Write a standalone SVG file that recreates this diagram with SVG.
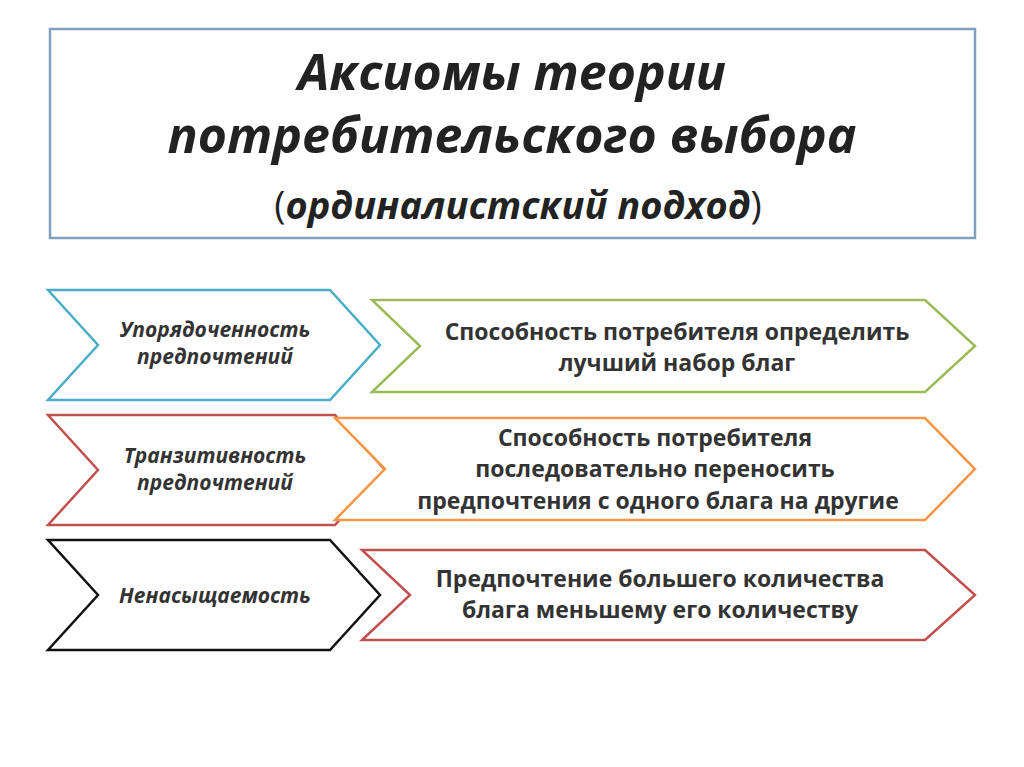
<svg xmlns="http://www.w3.org/2000/svg" width="1024" height="767" viewBox="0 0 1024 767">
<style>
.t{font-family:"Open Sans","Liberation Sans",sans-serif;font-weight:bold;fill:#333;text-anchor:middle}
.h{font-family:"Open Sans","Liberation Sans",sans-serif;font-weight:bold;font-style:italic;fill:#222;text-anchor:middle;font-size:50px}
.l{font-size:21px;font-style:italic}
.r{font-size:23px}
polygon{fill:#fff;stroke-width:2.5}
</style>
<rect width="1024" height="767" fill="#fff"/>
<g id="title">
<rect x="50" y="29" width="925" height="209" fill="#fff" stroke="#7f9fbf" stroke-width="2.5"/>
<text class="h" x="512" y="90">Аксиомы теории</text>
<text class="h" x="512" y="153">потребительского выбора</text>
<text class="h" x="518" y="219" style="font-size:38px"><tspan font-style="normal" font-weight="normal">(</tspan>ординалистский подход<tspan font-style="normal" font-weight="normal">)</tspan></text>
</g>
<g id="n1"><polygon points="48,290 330,290 380,345 330,400 48,400 98,345" stroke="#4bacc6"/>
<text class="t l" x="215" y="337">Упорядоченность</text><text class="t l" x="215" y="364">предпочтений</text></g>
<g id="n2"><polygon points="372,300 925,300 975,346 925,392 372,392 420,346" stroke="#9bbb59"/>
<text class="t r" x="677" y="340">Способность потребителя определить</text><text class="t r" x="677" y="371">лучший набор благ</text></g>
<g id="n3"><polygon points="48,415 335,415 385,470 335,525 48,525 98,470" stroke="#c0504d"/>
<text class="t l" x="215" y="463">Транзитивность</text><text class="t l" x="215" y="490">предпочтений</text></g>
<g id="n4"><polygon points="335,418 925,418 975,469 925,520 335,520 385,469" stroke="#f79646"/>
<text class="t r" x="655" y="446">Способность потребителя</text><text class="t r" x="655" y="477">последовательно переносить</text><text class="t r" x="658" y="509">предпочтения с одного блага на другие</text></g>
<g id="n5"><polygon points="48,540 330,540 380,595 330,650 48,650 98,595" stroke="#111"/>
<text class="t l" x="215" y="603">Ненасыщаемость</text></g>
<g id="n6"><polygon points="362,550 925,550 975,595 925,640 362,640 410,595" stroke="#c0504d"/>
<text class="t r" x="660" y="587">Предпочтение большего количества</text><text class="t r" x="660" y="618">блага меньшему его количеству</text></g>
<g id="connectors"/>
</svg>
